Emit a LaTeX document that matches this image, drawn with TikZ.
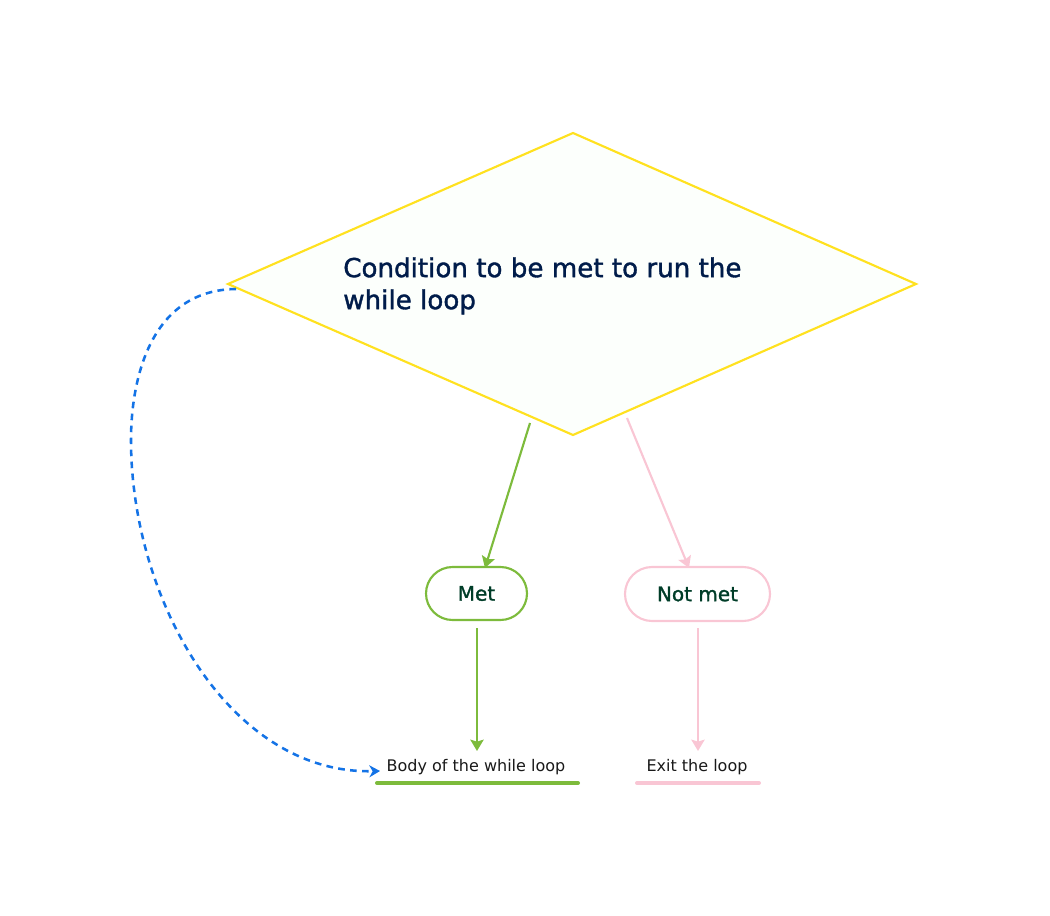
\documentclass[tikz,border=0pt]{standalone}
\usepackage{fontspec}
\setmainfont{DejaVu Sans}
\newfontfamily\semibold{DejaVu Sans}[FakeBold=1.4]
\usetikzlibrary{arrows.meta,shapes.misc}
\definecolor{dyellow}{RGB}{255,225,31}
\definecolor{dgreen}{RGB}{125,187,60}
\definecolor{dpink}{RGB}{249,198,212}
\definecolor{dblue}{RGB}{20,115,230}
\definecolor{dnavy}{RGB}{0,28,74}
\definecolor{dtgreen}{RGB}{0,61,40}
\definecolor{dfill}{RGB}{252,255,252}
\tikzset{
  pill/.style={rounded rectangle, draw, line width=1.6pt, text=dtgreen, font=\semibold\fontsize{15}{18}\selectfont, inner sep=0pt},
  garrow/.style={draw=dgreen, line width=1.6pt, -{Stealth[length=8.5pt,width=10pt,inset=1.5pt]}, color=dgreen},
  parrow/.style={draw=dpink, line width=1.6pt, -{Stealth[length=8.5pt,width=10pt,inset=1.5pt]}, color=dpink},
  lbl/.style={font=\fontsize{12}{14}\selectfont, text=black!90, inner sep=0pt},
  uline/.style={line width=3pt, line cap=round}
}
\begin{document}
\begin{tikzpicture}[x=0.75pt,y=-0.75pt]
\useasboundingbox (0,0) rectangle (1050,916);
% diamond
\coordinate (dt) at (573,133);
\coordinate (dr) at (916,284);
\coordinate (db) at (573,435);
\coordinate (dl) at (228,284);
\draw[dyellow, fill=dfill, line width=1.6pt, line join=miter] (dt) -- (dr) -- (db) -- (dl) -- cycle;
\node[anchor=north west, text=dnavy, font=\semibold\fontsize{19.6}{24}\selectfont, align=left, inner sep=0pt] (cond) at (343,257) {Condition to be met to run the\\while loop};
% pills
\node[pill, draw=dgreen, minimum width=101*0.75pt, minimum height=53*0.75pt] (met) at (476.5,593.5) {\raisebox{-1pt}{Met}};
\node[pill, draw=dpink, minimum width=145*0.75pt, minimum height=54*0.75pt] (notmet) at (697.5,594) {\raisebox{-1pt}{Not met}};
% connector start points
\coordinate (gs) at (530,423);
\coordinate (ps) at (627,418);
\coordinate (ge) at (485,568);
\coordinate (pe) at (689,568);
\draw[garrow] (gs) -- (ge);
\draw[parrow] (ps) -- (pe);
% labels
\node[lbl] (body) at (476,767) {Body of the while loop};
\node[lbl] (exit) at (697,767) {Exit the loop};
\coordinate (gb) at (477,628);
\coordinate (gbe) at (477,751);
\coordinate (pb) at (698,628);
\coordinate (pbe) at (698,751);
\draw[garrow] (gb) -- (gbe);
\draw[parrow] (pb) -- (pbe);
% underlines
\coordinate (u1a) at (377,783);
\coordinate (u1b) at (578,783);
\coordinate (u2a) at (637,783);
\coordinate (u2b) at (759,783);
\draw[uline, dgreen] (u1a) -- (u1b);
\draw[uline, dpink] (u2a) -- (u2b);
% dashed loop back
\coordinate (ls) at (236,289);
\coordinate (lm) at (131,440);
\coordinate (le) at (380,771);
\draw[dblue, line width=1.9pt, dash pattern=on 5pt off 4pt, -{Stealth[length=8pt,width=9pt,inset=2.5pt]}]
  (ls) .. controls (150,290) and (131,380) .. (lm)
       .. controls (131,600) and (230,775) .. (le);
\end{tikzpicture}
\end{document}
